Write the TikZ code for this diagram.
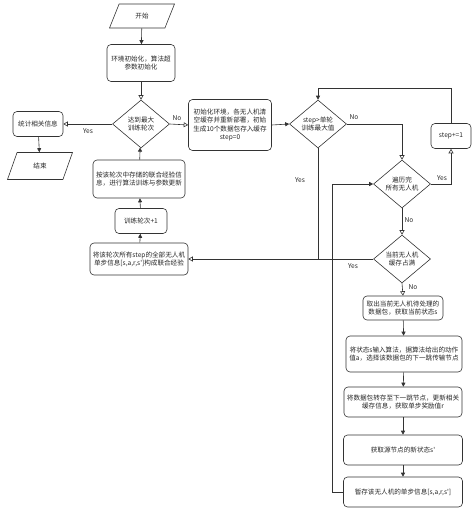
\documentclass[tikz,border=0pt]{standalone}
\usepackage{fontspec}
\newfontfamily\cjk{Noto Sans CJK SC}
\usetikzlibrary{shapes.geometric,arrows.meta}

\begin{document}
\begin{tikzpicture}[x=1pt,y=-1pt,
  font=\cjk\fontsize{6.6}{8.2}\selectfont,
  line width=0.6pt, draw=black!80, text=black!85,
  box/.style={draw, rounded corners=4pt, align=center, inner sep=1pt},
  dia/.style={draw, diamond, aspect=1.2, inner sep=0pt, align=center,
    minimum width=57pt, minimum height=48pt},
  io/.style={draw, trapezium, trapezium left angle=72, trapezium right angle=108,
    trapezium stretches=true, align=center},
  fa/.style={-{Triangle[length=4pt,width=4pt]}},
  oa/.style={-{Triangle[open,length=4.5pt,width=5pt]}},
  lbl/.style={font=\cjk\fontsize{6.6}{8}\selectfont}]
\useasboundingbox (0,0) rectangle (474,511);

% left column
\node[io, minimum width=65pt, minimum height=24pt] (start) at (142,16) {开始};
\node[box, minimum width=68pt, minimum height=37pt] (init) at (141,63) {环境初始化，算法超\\参数初始化};
\node[dia] (maxep) at (141,124) {达到最大\\训练轮次};
\node[box, minimum width=50pt, minimum height=25pt] (stat) at (38,124) {统计相关信息};
\node[io, minimum width=65pt, minimum height=27pt] (end) at (40,166) {结束};
\node[box, minimum width=92pt, minimum height=38pt] (train) at (139,179) {按该轮次中存储的联合经验信\\息，进行算法训练与参数更新};
\node[box, minimum width=52pt, minimum height=25pt] (epinc) at (141,221) {训练轮次+1};
\node[box, minimum width=98pt, minimum height=32pt] (joint) at (139,259) {将该轮次所有step的全部无人机\\单步信息[s,a,r,s']构成联合经验};

% middle and right
\node[box, minimum width=83pt, minimum height=51pt] (initenv) at (230,125) {初始化环境，各无人机清\\空缓存并重新部署，初始\\生成10个数据包存入缓存\\step=0};
\node[dia] (maxstep) at (318,124) {step>单轮\\训练最大值};
\node[box, minimum width=40pt, minimum height=25pt] (stepinc) at (451,136) {step+=1};
\node[dia] (alluav) at (402,184) {遍历完\\所有无人机};
\node[dia] (full) at (402,259) {当前无人机\\缓存占满};
\node[box, minimum width=80pt, minimum height=24pt] (fetch) at (403,308) {取出当前无人机待处理的\\数据包，获取当前状态s};
\node[box, minimum width=116pt, minimum height=36pt] (act) at (404,354) {将状态s输入算法，据算法给出的动作\\值a，选择该数据包的下一跳传输节点};
\node[box, minimum width=118pt, minimum height=30pt] (move) at (403,402) {将数据包转存至下一跳节点，更新相关\\缓存信息，获取单步奖励值r};
\node[box, minimum width=119pt, minimum height=30pt] (newst) at (403,450) {获取源节点的新状态s'};
\node[box, minimum width=119pt, minimum height=30pt] (store) at (403,492) {暂存该无人机的单步信息[s,a,r,s']};

\coordinate (top) at (318,88);

\draw[fa] (start) -- (init);
\draw[oa] (init) -- (maxep);
\draw[oa] (maxep.west) -- (stat.east);
\draw[fa] (stat) -- (end);
\draw[oa] (maxep.east) -- (initenv.west);
\draw[fa] (initenv.east) -- (maxstep.west);
\draw[oa] (maxstep.east) -| (alluav.north);
\draw[oa] (alluav.east) -| (stepinc.south);
\draw[fa] (stepinc.north) |- (top) -- (maxstep.north);
\draw[oa] (alluav.south) -- (full.north);
\draw[oa] (full.south) -- (fetch.north);
\draw[fa] (fetch) -- (act);
\draw[fa] (act) -- (move);
\draw[fa] (move) -- (newst);
\draw[fa] (newst) -- (store);
\draw[fa] (store.west) -- ++(-11,0) |- (alluav.west);
\draw[oa] (full.west) -- (joint.east);
\draw (maxstep.south) -- (maxstep.south |- full.west);
\draw[fa] (joint) -- (epinc);
\draw[fa] (epinc) -- (train);
\draw[fa] (train) -- (maxep);

\node[lbl] (y1) at (88,131) {Yes};
\node[lbl] (n1) at (177,118) {No};
\node[lbl] (n2) at (354,117) {No};
\node[lbl] (y2) at (300,180) {Yes};
\node[lbl] (y3) at (442,178) {Yes};
\node[lbl] (n3) at (409,220) {No};
\node[lbl] (y4) at (353,266) {Yes};
\node[lbl] (n4) at (413,287) {No};
\end{tikzpicture}
\end{document}
